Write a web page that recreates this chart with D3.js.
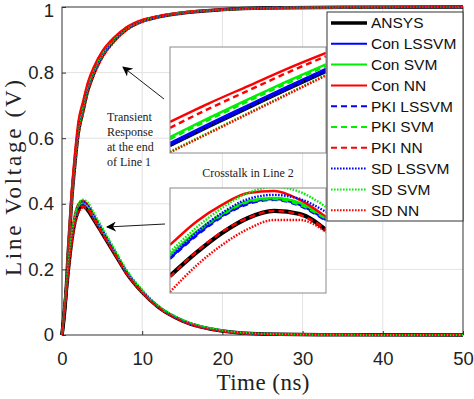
<!DOCTYPE html>
<html><head><meta charset="utf-8">
<script src="https://cdn.jsdelivr.net/npm/d3@7/dist/d3.min.js"></script>
<style>body{margin:0;background:#fff}svg{display:block}</style>
</head><body>
<svg id="chart" width="474" height="399"></svg>
<script>
// ---------------- DATA ----------------
const seriesNames = ["ANSYS","Con LSSVM","Con SVM","Con NN","PKI LSSVM","PKI SVM","PKI NN","SD LSSVM","SD SVM","SD NN"];
const xTicks = [0,10,20,30,40,50];
const yTicks = [0,0.2,0.4,0.6,0.8,1];
const yTickLabels = ["0","0.2","0.4","0.6","0.8","1"];
const xTickLabels = ["0","10","20","30","40","50"];

const timeNs = [0,0.4,0.8,1.2,1.6,2.0,2.6,3.2,4,5,6.5,8,10,12,15,20,25,35,50];

// transient response at the end of line 1 (V)
const trANSYS    = [0,0.09,0.26,0.41,0.521,0.612,0.682,0.745,0.80,0.85,0.898,0.932,0.957,0.970,0.982,0.992,0.997,0.999,1];
const trConLSSVM = [0,0.091,0.262,0.413,0.524,0.615,0.684,0.748,0.802,0.851,0.899,0.932,0.957,0.970,0.982,0.992,0.997,0.999,1];
const trConSVM   = [0,0.095,0.27,0.42,0.533,0.624,0.692,0.755,0.807,0.855,0.901,0.934,0.958,0.971,0.983,0.992,0.997,0.999,1];
const trConNN    = [0,0.1,0.28,0.44,0.555,0.647,0.712,0.77,0.82,0.865,0.908,0.938,0.961,0.973,0.984,0.993,0.997,0.999,1];
const trPKILSSVM = [0,0.09,0.261,0.411,0.522,0.613,0.683,0.746,0.801,0.85,0.898,0.932,0.957,0.970,0.982,0.992,0.997,0.999,1];
const trPKISVM   = [0,0.093,0.268,0.418,0.53,0.621,0.689,0.752,0.805,0.853,0.900,0.933,0.958,0.971,0.982,0.992,0.997,0.999,1];
const trPKINN    = [0,0.1,0.275,0.43,0.547,0.638,0.705,0.765,0.815,0.862,0.906,0.937,0.960,0.972,0.983,0.993,0.997,0.999,1];
const trSDLSSVM  = [0,0.089,0.258,0.408,0.519,0.611,0.681,0.744,0.799,0.849,0.897,0.931,0.956,0.969,0.981,0.992,0.997,0.999,1];
const trSDSVM    = [0,0.085,0.25,0.4,0.511,0.602,0.673,0.738,0.794,0.845,0.894,0.929,0.955,0.968,0.981,0.991,0.996,0.999,1];
const trSDNN     = [0,0.084,0.248,0.398,0.51,0.601,0.672,0.737,0.792,0.843,0.893,0.928,0.954,0.968,0.980,0.991,0.996,0.999,1];

// crosstalk in line 2 (V)
const ctANSYS    = [0,0.1,0.2,0.285,0.345,0.377,0.394,0.380,0.350,0.310,0.250,0.190,0.130,0.085,0.043,0.012,0.003,0.0005,0];
const ctConLSSVM = [0,0.103,0.211,0.299,0.357,0.39,0.403,0.392,0.360,0.318,0.256,0.194,0.133,0.087,0.044,0.012,0.003,0.0005,0];
const ctConSVM   = [0,0.104,0.213,0.302,0.36,0.392,0.404,0.394,0.362,0.320,0.258,0.196,0.134,0.088,0.045,0.013,0.003,0.0005,0];
const ctConNN    = [0,0.11,0.22,0.31,0.368,0.398,0.41,0.397,0.362,0.318,0.254,0.193,0.132,0.086,0.044,0.012,0.003,0.0005,0];
const ctPKILSSVM = [0,0.102,0.21,0.298,0.356,0.389,0.402,0.392,0.359,0.317,0.255,0.193,0.132,0.086,0.044,0.012,0.003,0.0005,0];
const ctPKISVM   = [0,0.104,0.212,0.3,0.359,0.391,0.403,0.393,0.361,0.319,0.257,0.195,0.133,0.087,0.045,0.013,0.003,0.0005,0];
const ctPKINN    = [0,0.1,0.2,0.285,0.344,0.378,0.393,0.384,0.352,0.311,0.251,0.190,0.130,0.085,0.043,0.012,0.003,0.0005,0];
const ctSDLSSVM  = [0,0.103,0.212,0.3,0.357,0.392,0.407,0.398,0.366,0.323,0.260,0.197,0.135,0.088,0.045,0.013,0.003,0.0005,0];
const ctSDSVM    = [0,0.105,0.215,0.305,0.362,0.396,0.413,0.405,0.372,0.329,0.265,0.201,0.138,0.090,0.047,0.014,0.004,0.0005,0];
const ctSDNN     = [0,0.09,0.185,0.27,0.33,0.367,0.387,0.382,0.350,0.309,0.249,0.188,0.128,0.084,0.042,0.011,0.003,0.0005,0];

// inset 1: zoom of transient response
const inset1Time = [2.0,2.25,2.5,2.75,3.0];
const in1ANSYS    = [0.612,0.641,0.669,0.697,0.724];
const in1ConLSSVM = [0.615,0.644,0.672,0.700,0.727];
const in1ConSVM   = [0.624,0.653,0.681,0.708,0.734];
const in1ConNN    = [0.647,0.675,0.701,0.727,0.751];
const in1PKILSSVM = [0.613,0.642,0.670,0.698,0.725];
const in1PKISVM   = [0.621,0.650,0.678,0.705,0.731];
const in1PKINN    = [0.638,0.667,0.694,0.721,0.746];
const in1SDLSSVM  = [0.611,0.640,0.668,0.696,0.723];
const in1SDSVM    = [0.602,0.631,0.660,0.689,0.718];
const in1SDNN     = [0.601,0.630,0.659,0.688,0.717];

// inset 2: zoom of crosstalk peak
const inset2Time = [1.4,1.7,2.0,2.3,2.6,2.9,3.2];
const in2ANSYS    = [0.3433,0.3613,0.3769,0.3886,0.3941,0.3917,0.3792];
const in2ConLSSVM = [0.3573,0.3753,0.3902,0.4003,0.4034,0.3988,0.3870];
const in2ConSVM   = [0.3597,0.3777,0.3917,0.4019,0.4042,0.4003,0.3886];
const in2ConNN    = [0.3675,0.3855,0.3988,0.4081,0.4097,0.4027,0.3894];
const in2PKILSSVM = [0.3566,0.3745,0.3894,0.3995,0.4027,0.3980,0.3863];
const in2PKISVM   = [0.3589,0.3769,0.3909,0.4011,0.4034,0.3988,0.3878];
const in2PKINN    = [0.3425,0.3620,0.3777,0.3886,0.3941,0.3909,0.3800];
const in2SDLSSVM  = [0.3573,0.3769,0.3925,0.4034,0.4066,0.4034,0.3933];
const in2SDSVM    = [0.3620,0.3808,0.3964,0.4081,0.4128,0.4089,0.3972];
const in2SDNN     = [0.3308,0.3511,0.3675,0.3800,0.3870,0.3870,0.3777];

// ---------------- STYLES ----------------
const colors = ["#000000","#0000ff","#00ee00","#ff0000","#0000ff","#00ee00","#ff0000","#0000ff","#00ee00","#ff0000"];
const dashes = [null,null,null,null,"6,4","6,4","6,4","1.6,1.4","1.6,1.4","1.6,1.4"];
const widths = [3.5,2,2,2,2,2,2,2,2,2];

const trAll = [trANSYS,trConLSSVM,trConSVM,trConNN,trPKILSSVM,trPKISVM,trPKINN,trSDLSSVM,trSDSVM,trSDNN];
const ctAll = [ctANSYS,ctConLSSVM,ctConSVM,ctConNN,ctPKILSSVM,ctPKISVM,ctPKINN,ctSDLSSVM,ctSDSVM,ctSDNN];
const in1All = [in1ANSYS,in1ConLSSVM,in1ConSVM,in1ConNN,in1PKILSSVM,in1PKISVM,in1PKINN,in1SDLSSVM,in1SDSVM,in1SDNN];
const in2All = [in2ANSYS,in2ConLSSVM,in2ConSVM,in2ConNN,in2PKILSSVM,in2PKISVM,in2PKINN,in2SDLSSVM,in2SDSVM,in2SDNN];

const svg = d3.select("#chart");
const L=62,R=463,T=7,B=335;
const x = d3.scaleLinear().domain([0,50]).range([L,R]);
const y = d3.scaleLinear().domain([0,1]).range([B,T]);

svg.append("defs").append("marker").attr("id","ah").attr("viewBox","0 0 10 10")
  .attr("refX",9).attr("refY",5).attr("markerWidth",10).attr("markerHeight",10)
  .attr("markerUnits","userSpaceOnUse").attr("orient","auto")
  .append("path").attr("d","M0,0 L10,5 L0,10 L3,5 Z").attr("fill","#000");

// grid
const g = svg.append("g");
g.selectAll("line.gx").data(xTicks.slice(1,-1)).join("line")
  .attr("x1",d=>x(d)).attr("x2",d=>x(d)).attr("y1",T).attr("y2",B)
  .attr("stroke","#e3e3e3").attr("stroke-width",1);
g.selectAll("line.gy").data(yTicks.slice(1,-1)).join("line")
  .attr("y1",d=>y(d)).attr("y2",d=>y(d)).attr("x1",L).attr("x2",R)
  .attr("stroke","#e3e3e3").attr("stroke-width",1);

// axes
const xa = svg.append("g").attr("transform",`translate(0,${B})`)
  .call(d3.axisBottom(x).tickValues(xTicks).tickFormat((d,i)=>xTickLabels[i]).tickSizeInner(-4).tickSizeOuter(0).tickPadding(17));
const ya = svg.append("g").attr("transform",`translate(${L},0)`)
  .call(d3.axisLeft(y).tickValues(yTicks).tickFormat((d,i)=>yTickLabels[i]).tickSizeInner(-4).tickSizeOuter(0).tickPadding(8));
[xa,ya].forEach(a=>{
  a.selectAll("text").attr("font-family","Liberation Sans, Arial, sans-serif").attr("font-size",18.5).attr("fill","#222");
  a.selectAll("line").attr("stroke","#333");
  a.select(".domain").attr("stroke","none");
});
ya.selectAll(".tick").filter(d=>d===1).select("text").attr("dy","0.52em");
svg.append("rect").attr("x",L).attr("y",T).attr("width",R-L).attr("height",B-T)
  .attr("fill","none").attr("stroke","#333").attr("stroke-width",1);

// main curves
const mainLine = d3.line().x((d,i)=>x(timeNs[i])).y(d=>y(d)).curve(d3.curveMonotoneX);
function drawSet(parent, sets, lineGen, wScale){
  sets.forEach((vals,k)=>{
    parent.append("path").attr("d",lineGen(vals)).attr("fill","none")
      .attr("stroke",colors[k]).attr("stroke-width",widths[k]*wScale)
      .attr("stroke-dasharray",dashes[k]).attr("stroke-linejoin","round");
  });
}
const mg = svg.append("g");
drawSet(mg, trAll, mainLine, 1);
drawSet(mg, ctAll, mainLine, 1);

// insets
function inset(id, x0,x1,y0,y1, tArr, dom, sets){
  const ix = d3.scaleLinear().domain(d3.extent(tArr)).range([x0,x1]);
  const iy = d3.scaleLinear().domain(dom).range([y1,y0]);
  svg.append("clipPath").attr("id",id).append("rect").attr("x",x0).attr("y",y0).attr("width",x1-x0).attr("height",y1-y0);
  svg.append("rect").attr("x",x0).attr("y",y0).attr("width",x1-x0).attr("height",y1-y0).attr("fill","#fff");
  const ig = svg.append("g").attr("clip-path",`url(#${id})`);
  const ln = d3.line().x((d,i)=>ix(tArr[i])).y(d=>iy(d)).curve(d3.curveMonotoneX);
  drawSet(ig, sets, ln, 1.2);
  svg.append("rect").attr("x",x0).attr("y",y0).attr("width",x1-x0).attr("height",y1-y0)
    .attr("fill","none").attr("stroke","#8a8a8a").attr("stroke-width",1);
}
inset("c1",170,326,47,153,inset1Time,[0.60,0.76],in1All);
inset("c2",170,326,188,293,inset2Time,[0.33,0.412],in2All);

// annotations
const serif = "Liberation Serif, Times New Roman, serif";
svg.append("text").attr("x",248).attr("y",177).attr("text-anchor","middle")
  .attr("font-family",serif).attr("font-size",12).attr("fill","#222").text("Crosstalk in Line 2");
const ann = ["Transient","Response","at the end","of Line 1"];
svg.append("g").selectAll("text").data(ann).join("text")
  .attr("x",107).attr("y",(d,i)=>121+i*15).attr("font-family",serif).attr("font-size",12).attr("fill","#222").text(d=>d);
svg.append("line").attr("x1",164).attr("y1",99).attr("x2",123).attr("y2",67)
  .attr("stroke","#000").attr("stroke-width",0.9).attr("marker-end","url(#ah)");
svg.append("line").attr("x1",165).attr("y1",224).attr("x2",107).attr("y2",227)
  .attr("stroke","#000").attr("stroke-width",0.9).attr("marker-end","url(#ah)");

// legend
const lg = svg.append("g");
lg.append("rect").attr("x",327).attr("y",12).attr("width",R-327).attr("height",209)
  .attr("fill","#fff").attr("stroke","#333").attr("stroke-width",1);
seriesNames.forEach((n,k)=>{
  const yy = 23 + k*20.8;
  lg.append("line").attr("x1",331).attr("x2",367).attr("y1",yy).attr("y2",yy)
    .attr("stroke",colors[k]).attr("stroke-width",widths[k]).attr("stroke-dasharray",dashes[k]);
  lg.append("text").attr("x",371).attr("y",yy).attr("dy","0.35em")
    .attr("font-family","Liberation Sans, Arial, sans-serif").attr("font-size",15.5).attr("fill","#111").text(n);
});

// axis titles
svg.append("text").attr("x",263).attr("y",390).attr("text-anchor","middle")
  .attr("font-family",serif).attr("font-size",23).attr("fill","#222")
  .attr("textLength",93).attr("lengthAdjust","spacing").text("Time (ns)");
svg.append("text").attr("transform","translate(21,178) rotate(-90)").attr("text-anchor","middle")
  .attr("font-family",serif).attr("font-size",23).attr("fill","#222")
  .attr("textLength",196).attr("lengthAdjust","spacing").text("Line Voltage (V)");
</script>
</body></html>
